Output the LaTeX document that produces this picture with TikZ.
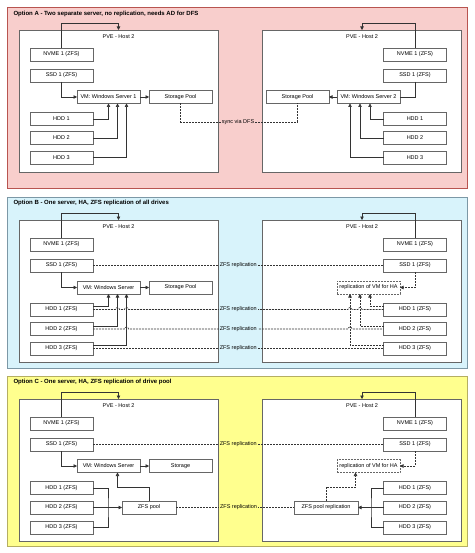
\documentclass[tikz,border=0pt]{standalone}
\usepackage{fontspec}
\setmainfont{Liberation Sans}
\usepackage{xcolor}
\usetikzlibrary{arrows.meta, calc}

\definecolor{pinkfill}{HTML}{F8CECC}
\definecolor{pinkline}{HTML}{B85450}
\definecolor{bluefill}{HTML}{D8F3FB}
\definecolor{blueline}{HTML}{7C98A6}
\definecolor{yellowfill}{HTML}{FFFF8E}
\definecolor{yellowline}{HTML}{B5AE62}
\definecolor{boxline}{HTML}{666666}
\definecolor{wirecol}{HTML}{333333}

\begin{document}
\begin{tikzpicture}[
    x=1pt, y=-1pt,
    font=\fontsize{5.5}{6.5}\selectfont,
    panel/.style={
        draw,
        line width=0.8pt,
        minimum width=460pt,
        inner sep=0pt,
        outer sep=0pt
    },
    host/.style={
        draw=boxline,
        fill=white,
        line width=0.6pt,
        minimum width=199pt,
        minimum height=142pt,
        inner sep=0pt,
        outer sep=0pt
    },
    disk/.style={
        draw=boxline,
        fill=white,
        line width=0.6pt,
        minimum width=63pt,
        minimum height=13pt,
        inner sep=0pt,
        outer sep=0pt
    },
    repbox/.style={disk, dash pattern=on 2pt off 1pt},
    title/.style={anchor=west, font=\fontsize{6}{7}\selectfont\bfseries},
    lbl/.style={inner sep=1pt},
    hop/.style={start angle=180, end angle=0, radius=2pt},
    link/.style={draw=wirecol, line width=0.6pt},
    arr/.style={-{Triangle[length=3.5pt, width=3.5pt]}, draw=wirecol, line width=0.6pt},
    dsh/.style={link, dash pattern=on 2pt off 1pt},
    darr/.style={arr, dash pattern=on 2pt off 1pt}
]
\useasboundingbox (0,0) rectangle (474,553);

\node[panel, draw=pinkline, fill=pinkfill, minimum height=181pt] (panelA) at (237,97.5) {};
\node[title] (titleA) at (10,14) {Option A - Two separate server, no replication, needs AD for DFS};

\node[host] (hostA1) at (118.5,101) {};
\node[below=1.5pt] (pveA1) at (hostA1.north) {PVE - Host 2};
\node[disk] (nvmeA1) at (61.5,54.5)  {NVME 1 (ZFS)};
\node[disk] (ssdA1)  at (61.5,75.5)  {SSD 1 (ZFS)};
\node[disk] (vmA1)   at (108.5,97)   {VM: Windows Server 1};
\node[disk] (poolA1) at (180.5,97)   {Storage Pool};
\node[disk] (hddA1a) at (61.5,119)   {HDD 1};
\node[disk] (hddA1b) at (61.5,138)   {HDD 2};
\node[disk] (hddA1c) at (61.5,157.5) {HDD 3};

\node[host] (hostA2) at (362,101) {};
\node[below=1.5pt] (pveA2) at (hostA2.north) {PVE - Host 2};
\node[disk] (nvmeA2) at (415,54.5)   {NVME 1 (ZFS)};
\node[disk] (ssdA2)  at (415,75.5)   {SSD 1 (ZFS)};
\node[disk] (vmA2)   at (368.5,97)   {VM: Windows Server 2};
\node[disk] (poolA2) at (297.5,97)   {Storage Pool};
\node[disk] (hddA2a) at (415,119)    {HDD 1};
\node[disk] (hddA2b) at (415,138)    {HDD 2};
\node[disk] (hddA2c) at (415,157.5)  {HDD 3};

\draw[arr] (nvmeA1.north) |- ($(hostA1.north)+(0,-7)$) -- (hostA1.north);
\draw[arr] (ssdA1.south) |- (vmA1.west);
\draw[arr] (hddA1a.east) -| (vmA1.south);
\draw[arr] (hddA1b.east) -| ($(vmA1.south)+(9,0)$);
\draw[arr] (hddA1c.east) -| ($(vmA1.south)+(18,0)$);
\draw[arr] (vmA1.east) -- (poolA1.west);

\draw[arr] (nvmeA2.north) |- ($(hostA2.north)+(0,-7)$) -- (hostA2.north);
\draw[link] (ssdA2.south) |- (vmA2.east);
\draw[arr] (hddA2a.west) -| ($(vmA2.south)+(1.5,0)$);
\draw[arr] (hddA2b.west) -| ($(vmA2.south)+(-8.5,0)$);
\draw[arr] (hddA2c.west) -| ($(vmA2.south)+(-18.5,0)$);
\draw[arr] (vmA2.west) -- (poolA2.east);

\node[lbl, fill=pinkfill] (syncA) at (238,122) {sync via DFS};
\draw[dsh] (poolA1.south) |- (syncA.west);
\draw[dsh] (syncA.east) -| (poolA2.south);

\node[panel, draw=blueline, fill=bluefill, minimum height=171pt] (panelB) at (237,282.5) {};
\node[title] (titleB) at (10,203) {Option B - One server, HA, ZFS replication of all drives};

\node[host] (hostB1) at (118.5,291) {};
\node[below=1.5pt] (pveB1) at (hostB1.north) {PVE - Host 2};
\node[disk] (nvmeB1) at (61.5,244.5)  {NVME 1 (ZFS)};
\node[disk] (ssdB1)  at (61.5,265.5)  {SSD 1 (ZFS)};
\node[disk] (vmB1)   at (108.5,287.5) {VM: Windows Server};
\node[disk] (poolB1) at (180.5,287.5) {Storage Pool};
\node[disk] (hddB1a) at (61.5,309.5)  {HDD 1 (ZFS)};
\node[disk] (hddB1b) at (61.5,329)    {HDD 2 (ZFS)};
\node[disk] (hddB1c) at (61.5,348.5)  {HDD 3 (ZFS)};

\node[host] (hostB2) at (362,291) {};
\node[below=1.5pt] (pveB2) at (hostB2.north) {PVE - Host 2};
\node[disk] (nvmeB2) at (415,244.5)   {NVME 1 (ZFS)};
\node[disk] (ssdB2)  at (415,265.5)   {SSD 1 (ZFS)};
\node[repbox] (repB2) at (368.5,287.5) {replication of VM for HA};
\node[disk] (hddB2a) at (415,309.5)   {HDD 1 (ZFS)};
\node[disk] (hddB2b) at (415,329)     {HDD 2 (ZFS)};
\node[disk] (hddB2c) at (415,348.5)   {HDD 3 (ZFS)};

\draw[arr] (nvmeB1.north) |- ($(hostB1.north)+(0,-7)$) -- (hostB1.north);
\draw[arr] (ssdB1.south) |- (vmB1.west);
\draw[arr] ($(hddB1a.east)+(0,-3)$) -| (vmB1.south);
\draw[arr] ($(hddB1b.east)+(0,-3)$) -| ($(vmB1.south)+(9,0)$);
\draw[arr] ($(hddB1c.east)+(0,-3)$) -| ($(vmB1.south)+(18,0)$);
\draw[arr] (vmB1.east) -- (poolB1.west);

\draw[arr] (nvmeB2.north) |- ($(hostB2.north)+(0,-7)$) -- (hostB2.north);
\draw[darr] (ssdB2.south) |- (repB2.east);
\draw[darr] ($(hddB2a.west)+(0,-3)$) -| ($(repB2.south)+(1.5,0)$);
\draw[darr] ($(hddB2b.west)+(0,-3)$) -| ($(repB2.south)+(-8.5,0)$);
\draw[darr] ($(hddB2c.west)+(0,-3)$) -| ($(repB2.south)+(-18.5,0)$);

\draw[dsh] (ssdB1.east) -- node[lbl, fill=bluefill] (zrB1) {ZFS replication} (ssdB2.west);
\draw[dsh] (hddB1a.east) -- (115.5,309.5) arc[hop] -- (124.5,309.5) arc[hop]
    -- node[lbl, fill=bluefill] (zrB2) {ZFS replication} (348,309.5) arc[hop]
    -- (358,309.5) arc[hop] -- (hddB2a.west);
\draw[dsh] (hddB1b.east) -- (124.5,329) arc[hop]
    -- node[lbl, fill=bluefill] (zrB3) {ZFS replication} (348,329) arc[hop]
    -- (hddB2b.west);
\draw[dsh] (hddB1c.east) -- node[lbl, fill=bluefill] (zrB4) {ZFS replication} (hddB2c.west);

\node[panel, draw=yellowline, fill=yellowfill, minimum height=170pt] (panelC) at (237,461) {};
\node[title] (titleC) at (10,382) {Option C - One server, HA, ZFS replication of drive pool};

\node[host] (hostC1) at (118.5,470) {};
\node[below=1.5pt] (pveC1) at (hostC1.north) {PVE - Host 2};
\node[disk] (nvmeC1) at (61.5,423.5)  {NVME 1 (ZFS)};
\node[disk] (ssdC1)  at (61.5,444.5)  {SSD 1 (ZFS)};
\node[disk] (vmC1)   at (108.5,466)   {VM: Windows Server};
\node[disk] (poolC1) at (180.5,466)   {Storage};
\node[disk] (hddC1a) at (61.5,488)    {HDD 1 (ZFS)};
\node[disk] (hddC1b) at (61.5,507.5)  {HDD 2 (ZFS)};
\node[disk] (hddC1c) at (61.5,527.5)  {HDD 3 (ZFS)};
\node[disk, minimum width=54pt] (zfsC1) at (149,507.5) {ZFS pool};
\coordinate (busC1) at (108,507.5);

\node[host] (hostC2) at (362,470) {};
\node[below=1.5pt] (pveC2) at (hostC2.north) {PVE - Host 2};
\node[disk] (nvmeC2) at (415,423.5)   {NVME 1 (ZFS)};
\node[disk] (ssdC2)  at (415,444.5)   {SSD 1 (ZFS)};
\node[repbox] (repC2) at (368.5,466)  {replication of VM for HA};
\node[disk] (hddC2a) at (415,488)     {HDD 1 (ZFS)};
\node[disk] (hddC2b) at (415,507.5)   {HDD 2 (ZFS)};
\node[disk] (hddC2c) at (415,527.5)   {HDD 3 (ZFS)};
\node[disk, minimum width=64pt] (zfsC2) at (326,507.5) {ZFS pool replication};
\coordinate (busC2) at (371,507.5);

\draw[arr] (nvmeC1.north) |- ($(hostC1.north)+(0,-7)$) -- (hostC1.north);
\draw[arr] (ssdC1.south) |- (vmC1.west);
\draw[arr] (vmC1.east) -- (poolC1.west);
\draw[link] (hddC1a.east) -| (busC1) |- (hddC1c.east);
\draw[arr] (hddC1b.east) -- (zfsC1.west);
\draw[arr] (zfsC1.north) -- ++(0,-14) -| ($(vmC1.south)+(9,0)$);

\draw[arr] (nvmeC2.north) |- ($(hostC2.north)+(0,-7)$) -- (hostC2.north);
\draw[darr] (ssdC2.south) |- (repC2.east);
\draw[link] (hddC2a.west) -| (busC2) |- (hddC2c.west);
\draw[arr] (hddC2b.west) -- (zfsC2.east);
\draw[darr] (zfsC2.north) -- ++(0,-14) -| ($(repC2.south)+(-13,0)$);

\draw[dsh] (ssdC1.east) -- node[lbl, fill=yellowfill] (zrC1) {ZFS replication} (ssdC2.west);
\draw[dsh] (zfsC1.east) -- node[lbl, fill=yellowfill, pos=0.53] (zrC2) {ZFS replication} (zfsC2.west);

\end{tikzpicture}
\end{document}
